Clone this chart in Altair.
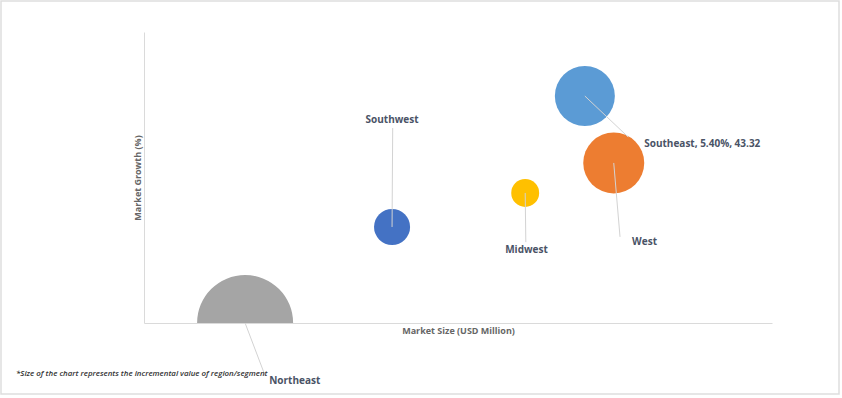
import altair as alt
import pandas as pd

regions = ["Northeast", "Southwest", "Midwest", "Southeast", "West"]
market_size = [16.1, 39.5, 60.7, 70.2, 74.8]
market_growth = [0.0, 3.3, 4.47, 7.8, 5.5]
incremental = [92.2, 13.0, 7.8, 36.0, 37.2]
labels = ["Northeast", "Southwest", "Midwest", "Southeast, 5.40%, 43.32", "West"]
label_x = [24.0, 39.5, 60.9, 88.9, 79.7]
label_y = [-2.0, 6.98, 2.51, 6.15, 2.78]
leader_x = [19.3, 39.6, 60.8, 77.1, 75.8]
leader_y = [-1.82, 6.7, 2.78, 6.39, 2.96]
colors = ["#a5a5a5", "#4472c4", "#ffc000", "#5b9bd5", "#ed7d31"]
footnote = "*Size of the chart represents the incremental value of region/segment"

df = pd.DataFrame({
    "region": regions,
    "size": market_size,
    "growth": market_growth,
    "inc": incremental,
    "label": labels,
    "lx": label_x,
    "ly": label_y,
    "ex": leader_x,
    "ey": leader_y,
})
note_df = pd.DataFrame({"t": [footnote]})

xscale = alt.Scale(domain=[0, 100], nice=False, zero=True)
yscale = alt.Scale(domain=[0, 10], nice=False, zero=True)

base = alt.Chart(df)

bubbles = base.mark_circle(opacity=1, clip=True).encode(
    x=alt.X("size:Q", scale=xscale, axis=alt.Axis(
        title="Market Size (USD Million)", labels=False, ticks=False, grid=False,
        domainColor="#dadada", domainWidth=1, titleFont="Open Sans", titleFontSize=9,
        titleFontWeight="bold", titleColor="#666666", titlePadding=3)),
    y=alt.Y("growth:Q", scale=yscale, axis=alt.Axis(
        title="Market Growth (%)", labels=False, ticks=False, grid=False,
        domainColor="#dadada", domainWidth=1, titleFont="Open Sans", titleFontSize=9,
        titleFontWeight="bold", titleColor="#666666", titlePadding=2)),
    size=alt.Size("inc:Q", scale=alt.Scale(type="linear", domain=[0, 100], range=[0, 10000]), legend=None),
    color=alt.Color("region:N", scale=alt.Scale(domain=regions, range=colors), legend=None),
)

leaders = base.mark_rule(color="#d3d3d3", strokeWidth=1).encode(
    x=alt.X("size:Q", scale=xscale),
    y=alt.Y("growth:Q", scale=yscale),
    x2="ex:Q",
    y2="ey:Q",
)

texts = base.mark_text(font="Open Sans", fontSize=10, fontWeight="bold",
                       color="#4a5366", align="center", baseline="middle").encode(
    x=alt.X("lx:Q", scale=xscale),
    y=alt.Y("ly:Q", scale=yscale),
    text="label:N",
)

note = alt.Chart(note_df).mark_text(font="Open Sans", fontSize=7.9, fontStyle="italic",
                                    fontWeight=600, color="#333333", align="left",
                                    baseline="middle").encode(
    x=alt.value(-128), y=alt.value(342), text="t:N")

frame = alt.Chart(note_df).mark_rect(fillOpacity=0, stroke="#dedede", strokeWidth=1.5).encode(
    x=alt.value(-143), x2=alt.value(695), y=alt.value(-31), y2=alt.value(362))

chart = alt.layer(frame, bubbles, leaders, texts, note).properties(
    width=628, height=291,
    padding={"left": 144, "top": 32, "right": 70, "bottom": 75},
    autosize=alt.AutoSizeParams(type="none"),
    background="white",
).configure_view(stroke=None)

chart.save("out.html", embed_options={"renderer": "svg", "actions": False})
